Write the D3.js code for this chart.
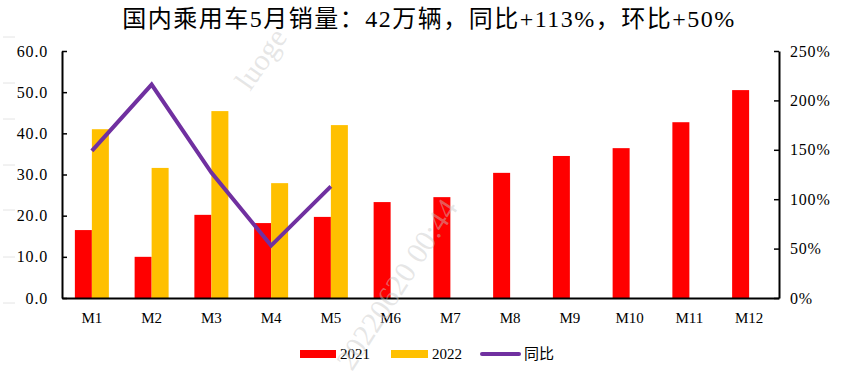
<!DOCTYPE html>
<html>
<head>
<meta charset="utf-8">
<script src="https://cdn.jsdelivr.net/npm/d3@7"></script>
<style>
  body { margin: 0; background: #fff; }
  svg { display: block; }
  text { font-family: "Liberation Serif", "Times New Roman", "Noto Sans CJK SC", serif; fill: #000; }
</style>
</head>
<body>
<div id="chart"></div>
<script>
const months = ["M1", "M2", "M3", "M4", "M5", "M6", "M7", "M8", "M9", "M10", "M11", "M12"];
const sales2021 = [16.5, 10.0, 20.2, 18.2, 19.7, 23.3, 24.5, 30.4, 34.5, 36.4, 42.7, 50.5];
const sales2022 = [41.0, 31.6, 45.4, 27.9, 42.0, null, null, null, null, null, null, null];
const yoy = [1.49, 2.16, 1.27, 0.53, 1.13, null, null, null, null, null, null, null];
const leftTicks = [0, 10, 20, 30, 40, 50, 60];
const rightTicks = [0, 0.5, 1, 1.5, 2, 2.5];
const title = "国内乘用车5月销量：42万辆，同比+113%，环比+50%";

const width = 844, height = 374;
const margin = { top: 51, right: 65, bottom: 76, left: 62 };
const colors = { "2021": "#FF0000", "2022": "#FFC000", line: "#7030A0" };

const svg = d3.select("#chart").append("svg")
    .attr("width", width)
    .attr("height", height);

const x = d3.scaleBand()
    .domain(months)
    .range([margin.left, width - margin.right])
    .padding(0);

const bw = 17;
const xs = d3.scaleBand()
    .domain(["2021", "2022"])
    .range([x.bandwidth() / 2 - bw, x.bandwidth() / 2 + bw]);

const y = d3.scaleLinear().domain([0, 60]).range([height - margin.bottom, margin.top]);
const y2 = d3.scaleLinear().domain([0, 2.5]).range([height - margin.bottom, margin.top]);

// faint marks at the left edge
svg.append("g")
    .selectAll("line")
    .data([37, 83, 119, 165, 210, 257, 303])
    .enter().append("line")
    .attr("x1", 3).attr("x2", 15)
    .attr("y1", d => d).attr("y2", d => d)
    .attr("stroke", "#e4e4e4");

// title
svg.append("text")
    .attr("x", 429)
    .attr("y", 27)
    .attr("text-anchor", "middle")
    .attr("font-size", 24)
    .attr("letter-spacing", 1.5)
    .text(title);

// bars
const rows = months.map((m, i) => ({ month: m, values: [
    { key: "2021", v: sales2021[i] },
    { key: "2022", v: sales2022[i] }
] }));

svg.append("g")
    .selectAll("g")
    .data(rows)
    .enter().append("g")
    .attr("transform", d => `translate(${x(d.month)},0)`)
    .selectAll("rect")
    .data(d => d.values.filter(e => e.v != null))
    .enter().append("rect")
    .attr("x", d => xs(d.key))
    .attr("width", xs.bandwidth())
    .attr("y", d => y(d.v))
    .attr("height", d => y(0) - y(d.v))
    .attr("fill", d => colors[d.key]);

// yoy line
const line = d3.line()
    .defined(d => d != null)
    .x((d, i) => x(months[i]) + x.bandwidth() / 2)
    .y(d => y2(d));

svg.append("path")
    .datum(yoy)
    .attr("d", line)
    .attr("fill", "none")
    .attr("stroke", colors.line)
    .attr("stroke-width", 4);

// axes
const leftAxis = svg.append("g")
    .attr("transform", `translate(${margin.left},0)`)
    .call(d3.axisLeft(y).tickValues(leftTicks).tickFormat(d3.format(".1f")).tickSizeInner(-5).tickSizeOuter(0).tickPadding(14));

const rightAxis = svg.append("g")
    .attr("transform", `translate(${width - margin.right},0)`)
    .call(d3.axisRight(y2).tickValues(rightTicks).tickFormat(d3.format(".0%")).tickSizeInner(-5).tickSizeOuter(0).tickPadding(11));

const bottomAxis = svg.append("g")
    .attr("transform", `translate(0,${height - margin.bottom})`)
    .call(d3.axisBottom(x).tickSize(0).tickPadding(14));

[leftAxis, rightAxis].forEach(g => {
    g.select(".domain").attr("stroke", "#000").attr("stroke-width", 2);
    g.selectAll(".tick line").attr("stroke", "#000").attr("stroke-width", 1.5);
    g.selectAll(".tick text").attr("font-size", 16).attr("letter-spacing", 0.8).attr("font-family", null);
});
bottomAxis.select(".domain").attr("stroke", "#000").attr("stroke-width", 2);
bottomAxis.selectAll(".tick text").attr("font-size", 15).attr("font-family", null);

// legend
const legend = svg.append("g").attr("transform", "translate(0,354)");
legend.append("rect").attr("x", 300).attr("y", -4).attr("width", 36).attr("height", 8).attr("fill", colors["2021"]);
legend.append("text").attr("x", 340).attr("y", 5).attr("font-size", 15).text("2021");
legend.append("rect").attr("x", 391).attr("y", -4).attr("width", 37).attr("height", 8).attr("fill", colors["2022"]);
legend.append("text").attr("x", 432).attr("y", 5).attr("font-size", 15).text("2022");
legend.append("line").attr("x1", 482).attr("x2", 519).attr("y1", 0).attr("y2", 0)
    .attr("stroke", colors.line).attr("stroke-width", 4).attr("stroke-linecap", "round");
legend.append("text").attr("x", 524).attr("y", 5).attr("font-size", 15).text("同比");

// watermark
const wm = svg.append("g").attr("fill", "rgb(200,200,200)").attr("fill-opacity", 0.45);
wm.append("text").attr("transform", "translate(250,92) rotate(-55)")
    .attr("font-size", 30).attr("font-family", "Liberation Sans, sans-serif").style("fill", "inherit").text("luoge");
wm.append("text").attr("transform", "translate(352,372) rotate(-57)")
    .attr("font-size", 30).attr("font-family", "Liberation Sans, sans-serif").style("fill", "inherit").text("20220620 00:44");
</script>
</body>
</html>
